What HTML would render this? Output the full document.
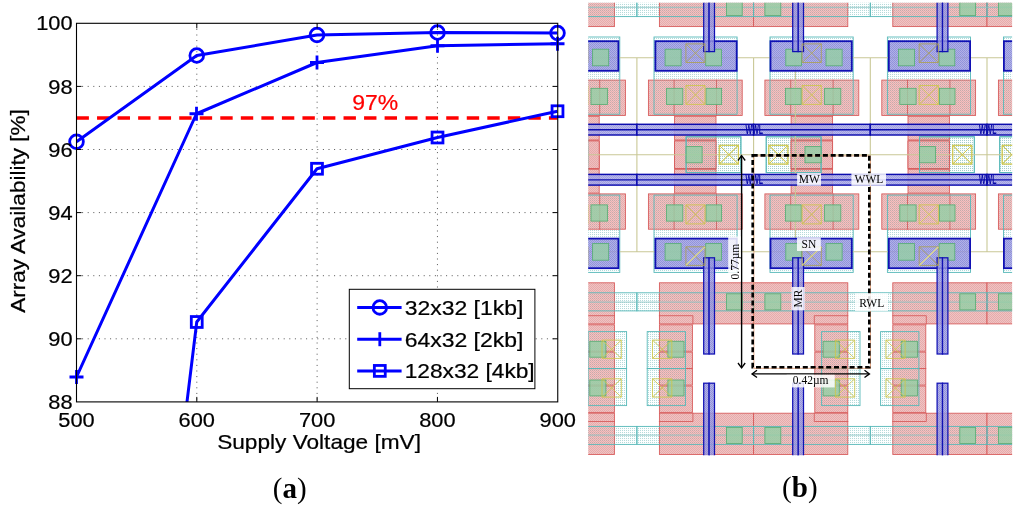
<!DOCTYPE html>
<html lang="en"><head><meta charset="utf-8"><title>Array availability and layout</title>
<style>
html,body{margin:0;padding:0;background:#fff}
body{width:1024px;height:508px;overflow:hidden}
svg{display:block}
text{font-family:"Liberation Sans",Arial,Helvetica,sans-serif;fill:#000}
.tl,.al{stroke:#000;stroke-width:.22px}
.tl{font-size:20.3px}
.al{font-size:20.6px}
.cap{font-family:"Liberation Serif","Times New Roman",serif;font-size:29px}
.lb{font-family:"Liberation Serif","Times New Roman",serif;font-size:11.5px}
.wwl{font-size:12px;font-weight:bold;fill:#0a0aa8}
.grid{stroke:#555;stroke-width:1;stroke-dasharray:1 4.6}
.ser{fill:none;stroke:#0000ff;stroke-width:3;stroke-linejoin:round}
.mk{fill:none;stroke:#0000ff;stroke-width:2.8}
.cyf{fill:url(#hcy);stroke:none}
.cys{fill:url(#hcy2);stroke:#58b9b9;stroke-width:.9}
.cyl{fill:none;stroke:#86c2c2;stroke-width:1;stroke-opacity:.85}
.rd{fill:url(#hrd);stroke:#d65858;stroke-width:.85}
.rdl{fill:none;stroke:#d65858;stroke-width:.85}
.bl{fill:url(#hbl);stroke:#1010b4;stroke-width:1.8}
.bb{fill:url(#hbl);stroke:#1010b4;stroke-width:1.25}
.wl{fill:url(#hwl);stroke:#0c0cae;stroke-width:1.45}
.wlc{stroke:#0c0cae;stroke-width:1.35}
.gr{fill:#96cea6;fill-opacity:.84;stroke:#58ae75;stroke-width:.85}
.ye{fill:none;stroke:#cfc64a;stroke-width:.85}
.yd{fill:none;stroke:#aaa05c;stroke-width:.9}
.yb{fill:none;stroke:#e6e07a;stroke-width:1.1}
.ol{fill:none;stroke:#c9c896;stroke-width:1.1}
</style></head>
<body>
<svg width="1024" height="508" viewBox="0 0 1024 508">
<defs>
<clipPath id="plotclip"><rect x="76.5" y="23.3" width="481.25" height="378.59999999999997"/></clipPath>
<clipPath id="layclip"><rect x="588.2" y="2.8" width="423.9" height="452.5"/></clipPath>
<pattern id="hrd" width="2" height="2" patternUnits="userSpaceOnUse"><rect width="2" height="2" fill="#eebfbf" fill-opacity=".92"/><rect width="1" height="1" fill="#e6a8a8" fill-opacity=".92"/><rect x="1" y="1" width="1" height="1" fill="#e6a8a8" fill-opacity=".92"/></pattern>
<pattern id="hbl" width="2" height="2" patternUnits="userSpaceOnUse"><rect width="2" height="2" fill="#9a9ae0" fill-opacity=".76"/><rect width="1" height="1" fill="#8a8ad8" fill-opacity=".76"/><rect x="1" y="1" width="1" height="1" fill="#8a8ad8" fill-opacity=".76"/></pattern>
<pattern id="hcy" width="2" height="2" patternUnits="userSpaceOnUse"><rect width="2" height="2" fill="#fcffff"/><rect width="1" height="1" fill="#cdeaea"/></pattern>
<pattern id="hcy2" width="2" height="2" patternUnits="userSpaceOnUse"><rect width="1" height="1" fill="#5a9a9a" fill-opacity=".2"/></pattern>
<pattern id="hwl" width="2" height="2" patternUnits="userSpaceOnUse"><rect width="2" height="2" fill="#a6a6e6" fill-opacity=".8"/><rect width="1" height="1" fill="#9a9ae0" fill-opacity=".8"/><rect x="1" y="1" width="1" height="1" fill="#9a9ae0" fill-opacity=".8"/></pattern>
</defs>
<rect width="1024" height="508" fill="#fff"/>
<g id="chart">
<line x1="196.81" y1="23.3" x2="196.81" y2="401.9" class="grid"/>
<line x1="317.12" y1="23.3" x2="317.12" y2="401.9" class="grid"/>
<line x1="437.44" y1="23.3" x2="437.44" y2="401.9" class="grid"/>
<line x1="76.5" y1="338.80" x2="557.75" y2="338.80" class="grid"/>
<line x1="76.5" y1="275.70" x2="557.75" y2="275.70" class="grid"/>
<line x1="76.5" y1="212.60" x2="557.75" y2="212.60" class="grid"/>
<line x1="76.5" y1="149.50" x2="557.75" y2="149.50" class="grid"/>
<line x1="76.5" y1="86.40" x2="557.75" y2="86.40" class="grid"/>
<g clip-path="url(#plotclip)">
<line x1="76.5" y1="118" x2="557.75" y2="118" stroke="#ff0000" stroke-width="3.5" stroke-dasharray="12.4 8.14"/>
<polyline points="76.50,141.75 196.75,55.50 317.00,35.00 437.50,32.50 557.50,33.00" class="ser"/>
<polyline points="76.50,377.00 196.50,113.75 317.00,62.50 437.50,45.75 557.50,43.75" class="ser"/>
<polyline points="177.20,482.00 196.75,322.00 317.00,168.75 437.50,137.50 557.50,111.25" class="ser"/>
</g>
<circle cx="76.5" cy="141.75" r="6.85" class="mk"/>
<circle cx="196.75" cy="55.5" r="6.85" class="mk"/>
<circle cx="317" cy="35" r="6.85" class="mk"/>
<circle cx="437.5" cy="32.5" r="6.85" class="mk"/>
<circle cx="557.5" cy="33" r="6.85" class="mk"/>
<path d="M69.5 377H83.5M76.5 370V384" class="mk"/>
<path d="M189.5 113.75H203.5M196.5 106.75V120.75" class="mk"/>
<path d="M310 62.5H324M317 55.5V69.5" class="mk"/>
<path d="M430.5 45.75H444.5M437.5 38.75V52.75" class="mk"/>
<path d="M550.5 43.75H564.5M557.5 36.75V50.75" class="mk"/>
<rect x="191.3" y="316.55" width="10.9" height="10.9" class="mk"/>
<rect x="311.55" y="163.3" width="10.9" height="10.9" class="mk"/>
<rect x="432.05" y="132.05" width="10.9" height="10.9" class="mk"/>
<rect x="552.05" y="105.8" width="10.9" height="10.9" class="mk"/>
<rect x="76.5" y="23.3" width="481.25" height="378.59999999999997" fill="none" stroke="#000" stroke-width="1.1"/>
<path d="M196.81 401.9v-5M196.81 23.3v5" stroke="#000" stroke-width="1"/>
<path d="M317.12 401.9v-5M317.12 23.3v5" stroke="#000" stroke-width="1"/>
<path d="M437.44 401.9v-5M437.44 23.3v5" stroke="#000" stroke-width="1"/>
<path d="M76.5 338.80h5M557.75 338.80h-5" stroke="#000" stroke-width="1"/>
<path d="M76.5 275.70h5M557.75 275.70h-5" stroke="#000" stroke-width="1"/>
<path d="M76.5 212.60h5M557.75 212.60h-5" stroke="#000" stroke-width="1"/>
<path d="M76.5 149.50h5M557.75 149.50h-5" stroke="#000" stroke-width="1"/>
<path d="M76.5 86.40h5M557.75 86.40h-5" stroke="#000" stroke-width="1"/>
<text x="48.33" y="409.00" class="tl" textLength="24.27" lengthAdjust="spacingAndGlyphs">88</text>
<text x="48.33" y="345.90" class="tl" textLength="24.27" lengthAdjust="spacingAndGlyphs">90</text>
<text x="48.33" y="282.80" class="tl" textLength="24.27" lengthAdjust="spacingAndGlyphs">92</text>
<text x="48.33" y="219.70" class="tl" textLength="24.27" lengthAdjust="spacingAndGlyphs">94</text>
<text x="48.33" y="156.60" class="tl" textLength="24.27" lengthAdjust="spacingAndGlyphs">96</text>
<text x="48.33" y="93.50" class="tl" textLength="24.27" lengthAdjust="spacingAndGlyphs">98</text>
<text x="36.20" y="30.40" class="tl" textLength="36.40" lengthAdjust="spacingAndGlyphs">100</text>
<text x="58.30" y="427" class="tl" textLength="36.40" lengthAdjust="spacingAndGlyphs">500</text>
<text x="178.61" y="427" class="tl" textLength="36.40" lengthAdjust="spacingAndGlyphs">600</text>
<text x="298.93" y="427" class="tl" textLength="36.40" lengthAdjust="spacingAndGlyphs">700</text>
<text x="419.24" y="427" class="tl" textLength="36.40" lengthAdjust="spacingAndGlyphs">800</text>
<text x="539.55" y="427" class="tl" textLength="36.40" lengthAdjust="spacingAndGlyphs">900</text>
<text x="217.2" y="448.8" class="al" textLength="203.8" lengthAdjust="spacingAndGlyphs">Supply Voltage [mV]</text>
<text transform="translate(25.2 312.8) rotate(-90)" class="al" textLength="203.5" lengthAdjust="spacingAndGlyphs">Array Availability [%]</text>
<text x="352.3" y="110.2" class="al" style="fill:#f00;stroke:#f00;font-size:21.4px" textLength="46" lengthAdjust="spacingAndGlyphs">97%</text>
<rect x="349.3" y="289.3" width="185.6" height="99.4" fill="#fff" stroke="#000" stroke-width="1"/>
<line x1="357.2" y1="307.45" x2="401.6" y2="307.45" class="ser"/>
<circle cx="379.8" cy="307.45" r="6.8" class="mk"/>
<text x="404.7" y="314.75" class="al" textLength="118.6" lengthAdjust="spacingAndGlyphs">32x32 [1kb]</text>
<line x1="357.2" y1="339.2" x2="401.6" y2="339.2" class="ser"/>
<path d="M379.8 332.2V346.2" class="mk"/>
<text x="404.7" y="346.5" class="al" textLength="118.6" lengthAdjust="spacingAndGlyphs">64x32 [2kb]</text>
<line x1="357.2" y1="370.9" x2="401.6" y2="370.9" class="ser"/>
<rect x="374.35" y="365.45" width="10.9" height="10.9" class="mk"/>
<text x="404.7" y="378.2" class="al" textLength="130" lengthAdjust="spacingAndGlyphs">128x32 [4kb]</text>
<text x="272.8" y="497.5" class="cap">(<tspan font-weight="bold">a</tspan>)</text>
<text x="782.1" y="497.3" class="cap">(<tspan font-weight="bold">b</tspan>)</text>
</g>
<g id="layout">
<g clip-path="url(#layclip)">
<rect x="532.9" y="136.8" width="54.8" height="35.7" class="cyf"/>
<rect x="536.6" y="37.0" width="83.2" height="77.2" class="cyf"/>
<rect x="520.2" y="-1.5" width="116.7" height="18.1" class="cyf"/>
<rect x="532.9" y="136.8" width="54.8" height="35.8" class="cyf"/>
<rect x="536.6" y="195.1" width="83.2" height="77.3" class="cyf"/>
<rect x="520.2" y="292.8" width="116.7" height="18.1" class="cyf"/>
<rect x="588.2" y="331.6" width="38.4" height="37.0" class="cyf"/>
<rect x="520.2" y="426.4" width="116.7" height="18.0" class="cyf"/>
<rect x="588.2" y="368.6" width="38.4" height="37.0" class="cyf"/>
<rect x="686.1" y="136.8" width="54.8" height="35.7" class="cyf"/>
<rect x="654.0" y="37.0" width="83.1" height="77.2" class="cyf"/>
<rect x="636.9" y="-1.5" width="116.7" height="18.1" class="cyf"/>
<rect x="686.1" y="136.8" width="54.8" height="35.8" class="cyf"/>
<rect x="654.0" y="195.1" width="83.1" height="77.3" class="cyf"/>
<rect x="636.9" y="292.8" width="116.7" height="18.1" class="cyf"/>
<rect x="647.2" y="331.6" width="38.3" height="37.0" class="cyf"/>
<rect x="636.9" y="426.4" width="116.7" height="18.0" class="cyf"/>
<rect x="647.2" y="368.6" width="38.3" height="37.0" class="cyf"/>
<rect x="766.2" y="136.8" width="54.9" height="35.7" class="cyf"/>
<rect x="770.0" y="37.0" width="83.2" height="77.2" class="cyf"/>
<rect x="753.6" y="-1.5" width="116.7" height="18.1" class="cyf"/>
<rect x="766.2" y="136.8" width="54.9" height="35.8" class="cyf"/>
<rect x="770.0" y="195.1" width="83.2" height="77.3" class="cyf"/>
<rect x="753.6" y="292.8" width="116.7" height="18.1" class="cyf"/>
<rect x="821.6" y="331.6" width="38.4" height="37.0" class="cyf"/>
<rect x="753.6" y="426.4" width="116.7" height="18.0" class="cyf"/>
<rect x="821.6" y="368.6" width="38.4" height="37.0" class="cyf"/>
<rect x="919.5" y="136.8" width="54.8" height="35.7" class="cyf"/>
<rect x="887.4" y="37.0" width="83.1" height="77.2" class="cyf"/>
<rect x="870.3" y="-1.5" width="116.7" height="18.1" class="cyf"/>
<rect x="919.5" y="136.8" width="54.8" height="35.8" class="cyf"/>
<rect x="887.4" y="195.1" width="83.1" height="77.3" class="cyf"/>
<rect x="870.3" y="292.8" width="116.7" height="18.1" class="cyf"/>
<rect x="880.6" y="331.6" width="38.3" height="37.0" class="cyf"/>
<rect x="870.3" y="426.4" width="116.7" height="18.0" class="cyf"/>
<rect x="880.6" y="368.6" width="38.3" height="37.0" class="cyf"/>
<rect x="999.7" y="136.8" width="54.8" height="35.7" class="cyf"/>
<rect x="1003.5" y="37.0" width="83.1" height="77.2" class="cyf"/>
<rect x="987.0" y="-1.5" width="116.7" height="18.1" class="cyf"/>
<rect x="999.7" y="136.8" width="54.8" height="35.8" class="cyf"/>
<rect x="1003.5" y="195.1" width="83.1" height="77.3" class="cyf"/>
<rect x="987.0" y="292.8" width="116.7" height="18.1" class="cyf"/>
<rect x="987.0" y="426.4" width="116.7" height="18.0" class="cyf"/>
<rect x="557.8" y="140.9" width="41.4" height="27.5" class="rd"/>
<rect x="557.8" y="116.3" width="41.4" height="23.7" class="rd"/>
<rect x="531.5" y="80.1" width="93.9" height="35.3" class="rd"/>
<rect x="520.2" y="-14.6" width="94.2" height="41.2" class="rd"/>
<rect x="557.8" y="140.9" width="41.4" height="27.6" class="rd"/>
<rect x="557.8" y="169.3" width="41.4" height="23.8" class="rd"/>
<rect x="531.5" y="193.9" width="93.9" height="35.3" class="rd"/>
<rect x="520.2" y="282.8" width="94.2" height="41.1" class="rd"/>
<rect x="581.4" y="324.8" width="33.0" height="26.4" class="rd"/>
<rect x="581.4" y="352.1" width="33.0" height="16.5" class="rd"/>
<rect x="520.2" y="413.2" width="94.2" height="41.3" class="rd"/>
<rect x="581.4" y="386.0" width="33.0" height="26.4" class="rd"/>
<rect x="581.4" y="368.6" width="33.0" height="16.5" class="rd"/>
<rect x="674.6" y="140.9" width="41.4" height="27.5" class="rd"/>
<rect x="674.6" y="116.3" width="41.4" height="23.7" class="rd"/>
<rect x="648.4" y="80.1" width="93.8" height="35.3" class="rd"/>
<rect x="659.4" y="-14.6" width="94.2" height="41.2" class="rd"/>
<rect x="674.6" y="140.9" width="41.4" height="27.6" class="rd"/>
<rect x="674.6" y="169.3" width="41.4" height="23.8" class="rd"/>
<rect x="648.4" y="193.9" width="93.8" height="35.3" class="rd"/>
<rect x="659.4" y="282.8" width="94.2" height="41.1" class="rd"/>
<rect x="659.4" y="324.8" width="33.0" height="26.4" class="rd"/>
<rect x="659.4" y="352.1" width="33.0" height="16.5" class="rd"/>
<rect x="659.4" y="413.2" width="94.2" height="41.3" class="rd"/>
<rect x="659.4" y="386.0" width="33.0" height="26.4" class="rd"/>
<rect x="659.4" y="368.6" width="33.0" height="16.5" class="rd"/>
<rect x="791.1" y="140.9" width="41.5" height="27.5" class="rd"/>
<rect x="791.1" y="116.3" width="41.5" height="23.7" class="rd"/>
<rect x="764.9" y="80.1" width="93.9" height="35.3" class="rd"/>
<rect x="753.6" y="-14.6" width="94.2" height="41.2" class="rd"/>
<rect x="791.1" y="140.9" width="41.5" height="27.6" class="rd"/>
<rect x="791.1" y="169.3" width="41.5" height="23.8" class="rd"/>
<rect x="764.9" y="193.9" width="93.9" height="35.3" class="rd"/>
<rect x="753.6" y="282.8" width="94.2" height="41.1" class="rd"/>
<rect x="814.8" y="324.8" width="33.0" height="26.4" class="rd"/>
<rect x="814.8" y="352.1" width="33.0" height="16.5" class="rd"/>
<rect x="753.6" y="413.2" width="94.2" height="41.3" class="rd"/>
<rect x="814.8" y="386.0" width="33.0" height="26.4" class="rd"/>
<rect x="814.8" y="368.6" width="33.0" height="16.5" class="rd"/>
<rect x="908.0" y="140.9" width="41.4" height="27.5" class="rd"/>
<rect x="908.0" y="116.3" width="41.4" height="23.7" class="rd"/>
<rect x="881.8" y="80.1" width="93.8" height="35.3" class="rd"/>
<rect x="892.8" y="-14.6" width="94.2" height="41.2" class="rd"/>
<rect x="908.0" y="140.9" width="41.4" height="27.6" class="rd"/>
<rect x="908.0" y="169.3" width="41.4" height="23.8" class="rd"/>
<rect x="881.8" y="193.9" width="93.8" height="35.3" class="rd"/>
<rect x="892.8" y="282.8" width="94.2" height="41.1" class="rd"/>
<rect x="892.8" y="324.8" width="33.0" height="26.4" class="rd"/>
<rect x="892.8" y="352.1" width="33.0" height="16.5" class="rd"/>
<rect x="892.8" y="413.2" width="94.2" height="41.3" class="rd"/>
<rect x="892.8" y="386.0" width="33.0" height="26.4" class="rd"/>
<rect x="892.8" y="368.6" width="33.0" height="16.5" class="rd"/>
<rect x="998.4" y="80.1" width="93.8" height="35.3" class="rd"/>
<rect x="987.0" y="-14.6" width="94.2" height="41.2" class="rd"/>
<rect x="998.4" y="193.9" width="93.8" height="35.3" class="rd"/>
<rect x="987.0" y="282.8" width="94.2" height="41.1" class="rd"/>
<rect x="987.0" y="413.2" width="94.2" height="41.3" class="rd"/>
<path d="M599.7 79.7L599.7 115.9M599.7 193.5L599.7 229.7M580.9 315.7L614.9 315.7M580.9 421.5L614.9 421.5M674.1 79.7L674.1 115.9M716.5 79.7L716.5 115.9M674.1 193.5L674.1 229.7M716.5 193.5L716.5 229.7M658.9 315.7L692.9 315.7M692.9 315.7L692.9 324.4M658.9 421.5L692.9 421.5M692.9 412.8L692.9 421.5M833.1 79.7L833.1 115.9M790.7 79.7L790.7 115.9M833.1 193.5L833.1 229.7M790.7 193.5L790.7 229.7M814.3 315.7L848.3 315.7M814.3 315.7L814.3 324.4M814.3 421.5L848.3 421.5M814.3 412.8L814.3 421.5M907.5 79.7L907.5 115.9M949.9 79.7L949.9 115.9M907.5 193.5L907.5 229.7M949.9 193.5L949.9 229.7M892.3 315.7L926.3 315.7M926.3 315.7L926.3 324.4M892.3 421.5L926.3 421.5M926.3 412.8L926.3 421.5" class="rdl"/>
<rect x="532.9" y="136.8" width="54.8" height="35.7" class="cys"/>
<rect x="536.6" y="37.0" width="83.2" height="77.2" class="cys"/>
<rect x="520.2" y="-1.5" width="116.7" height="18.1" class="cys"/>
<rect x="532.9" y="136.8" width="54.8" height="35.8" class="cys"/>
<rect x="536.6" y="195.1" width="83.2" height="77.3" class="cys"/>
<rect x="520.2" y="292.8" width="116.7" height="18.1" class="cys"/>
<rect x="588.2" y="331.6" width="38.4" height="37.0" class="cys"/>
<rect x="520.2" y="426.4" width="116.7" height="18.0" class="cys"/>
<rect x="588.2" y="368.6" width="38.4" height="37.0" class="cys"/>
<rect x="686.1" y="136.8" width="54.8" height="35.7" class="cys"/>
<rect x="654.0" y="37.0" width="83.1" height="77.2" class="cys"/>
<rect x="636.9" y="-1.5" width="116.7" height="18.1" class="cys"/>
<rect x="686.1" y="136.8" width="54.8" height="35.8" class="cys"/>
<rect x="654.0" y="195.1" width="83.1" height="77.3" class="cys"/>
<rect x="636.9" y="292.8" width="116.7" height="18.1" class="cys"/>
<rect x="647.2" y="331.6" width="38.3" height="37.0" class="cys"/>
<rect x="636.9" y="426.4" width="116.7" height="18.0" class="cys"/>
<rect x="647.2" y="368.6" width="38.3" height="37.0" class="cys"/>
<rect x="766.2" y="136.8" width="54.9" height="35.7" class="cys"/>
<rect x="770.0" y="37.0" width="83.2" height="77.2" class="cys"/>
<rect x="753.6" y="-1.5" width="116.7" height="18.1" class="cys"/>
<rect x="766.2" y="136.8" width="54.9" height="35.8" class="cys"/>
<rect x="770.0" y="195.1" width="83.2" height="77.3" class="cys"/>
<rect x="753.6" y="292.8" width="116.7" height="18.1" class="cys"/>
<rect x="821.6" y="331.6" width="38.4" height="37.0" class="cys"/>
<rect x="753.6" y="426.4" width="116.7" height="18.0" class="cys"/>
<rect x="821.6" y="368.6" width="38.4" height="37.0" class="cys"/>
<rect x="919.5" y="136.8" width="54.8" height="35.7" class="cys"/>
<rect x="887.4" y="37.0" width="83.1" height="77.2" class="cys"/>
<rect x="870.3" y="-1.5" width="116.7" height="18.1" class="cys"/>
<rect x="919.5" y="136.8" width="54.8" height="35.8" class="cys"/>
<rect x="887.4" y="195.1" width="83.1" height="77.3" class="cys"/>
<rect x="870.3" y="292.8" width="116.7" height="18.1" class="cys"/>
<rect x="880.6" y="331.6" width="38.3" height="37.0" class="cys"/>
<rect x="870.3" y="426.4" width="116.7" height="18.0" class="cys"/>
<rect x="880.6" y="368.6" width="38.3" height="37.0" class="cys"/>
<rect x="999.7" y="136.8" width="54.8" height="35.7" class="cys"/>
<rect x="1003.5" y="37.0" width="83.1" height="77.2" class="cys"/>
<rect x="987.0" y="-1.5" width="116.7" height="18.1" class="cys"/>
<rect x="999.7" y="136.8" width="54.8" height="35.8" class="cys"/>
<rect x="1003.5" y="195.1" width="83.1" height="77.3" class="cys"/>
<rect x="987.0" y="292.8" width="116.7" height="18.1" class="cys"/>
<rect x="987.0" y="426.4" width="116.7" height="18.0" class="cys"/>
<path d="M520.2 7.3L636.9 7.3M520.2 302.1L636.9 302.1M520.2 435.1L636.9 435.1M636.9 7.3L753.6 7.3M636.9 302.1L753.6 302.1M636.9 435.1L753.6 435.1M753.6 7.3L870.3 7.3M753.6 302.1L870.3 302.1M753.6 435.1L870.3 435.1M870.3 7.3L987.0 7.3M870.3 302.1L987.0 302.1M870.3 435.1L987.0 435.1M987.0 7.3L1103.7 7.3M987.0 302.1L1103.7 302.1M987.0 435.1L1103.7 435.1" class="cyl"/>
<path d="M520.2 154.7L636.9 154.7M520.2 57.7L636.9 57.7M636.9 57.7L636.9 154.7M520.2 251.7L636.9 251.7M636.9 154.7L636.9 251.7M636.9 154.7L753.6 154.7M636.9 57.7L753.6 57.7M753.6 57.7L753.6 154.7M636.9 251.7L753.6 251.7M753.6 154.7L753.6 251.7M753.6 154.7L870.3 154.7M753.6 57.7L870.3 57.7M870.3 57.7L870.3 154.7M753.6 251.7L870.3 251.7M870.3 154.7L870.3 251.7M870.3 154.7L987.0 154.7M870.3 57.7L987.0 57.7M987.0 57.7L987.0 154.7M870.3 251.7L987.0 251.7M987.0 154.7L987.0 251.7M987.0 154.7L1103.7 154.7M987.0 57.7L1103.7 57.7M987.0 251.7L1103.7 251.7" class="ol"/>
<path d="M795.4 57.7V251.7" class="ol"/>
<rect x="537.1" y="41.2" width="81.3" height="29.6" class="bl"/>
<rect x="537.1" y="238.6" width="81.3" height="29.6" class="bl"/>
<rect x="655.4" y="41.2" width="81.3" height="29.6" class="bl"/>
<rect x="655.4" y="238.6" width="81.3" height="29.6" class="bl"/>
<rect x="770.5" y="41.2" width="81.3" height="29.6" class="bl"/>
<rect x="770.5" y="238.6" width="81.3" height="29.6" class="bl"/>
<rect x="888.8" y="41.2" width="81.3" height="29.6" class="bl"/>
<rect x="888.8" y="238.6" width="81.3" height="29.6" class="bl"/>
<rect x="1003.9" y="41.2" width="81.3" height="29.6" class="bl"/>
<rect x="1003.9" y="238.6" width="81.3" height="29.6" class="bl"/>
<rect x="520.2" y="124.3" width="116.7" height="10.7" class="wl"/>
<rect x="520.2" y="174.4" width="116.7" height="10.7" class="wl"/>
<rect x="636.9" y="124.3" width="116.7" height="10.7" class="wl"/>
<rect x="636.9" y="174.4" width="116.7" height="10.7" class="wl"/>
<rect x="753.6" y="124.3" width="116.7" height="10.7" class="wl"/>
<rect x="753.6" y="174.4" width="116.7" height="10.7" class="wl"/>
<rect x="870.3" y="124.3" width="116.7" height="10.7" class="wl"/>
<rect x="870.3" y="174.4" width="116.7" height="10.7" class="wl"/>
<rect x="987.0" y="124.3" width="116.7" height="10.7" class="wl"/>
<rect x="987.0" y="174.4" width="116.7" height="10.7" class="wl"/>
<line x1="520.2" y1="129.7" x2="636.9" y2="129.7" class="wlc"/>
<line x1="520.2" y1="179.8" x2="636.9" y2="179.8" class="wlc"/>
<line x1="636.9" y1="129.7" x2="753.6" y2="129.7" class="wlc"/>
<line x1="636.9" y1="179.8" x2="753.6" y2="179.8" class="wlc"/>
<line x1="753.6" y1="129.7" x2="870.3" y2="129.7" class="wlc"/>
<line x1="753.6" y1="179.8" x2="870.3" y2="179.8" class="wlc"/>
<line x1="870.3" y1="129.7" x2="987.0" y2="129.7" class="wlc"/>
<line x1="870.3" y1="179.8" x2="987.0" y2="179.8" class="wlc"/>
<line x1="987.0" y1="129.7" x2="1103.7" y2="129.7" class="wlc"/>
<line x1="987.0" y1="179.8" x2="1103.7" y2="179.8" class="wlc"/>
<rect x="571.6" y="146.6" width="16.1" height="16.2" class="gr"/>
<rect x="591.0" y="88.3" width="16.4" height="16.1" class="gr"/>
<rect x="592.6" y="49.2" width="16.1" height="16.6" class="gr"/>
<rect x="591.0" y="204.9" width="16.4" height="16.2" class="gr"/>
<rect x="592.6" y="243.6" width="16.1" height="16.6" class="gr"/>
<rect x="589.8" y="341.3" width="16.1" height="15.9" class="gr"/>
<rect x="589.8" y="380.0" width="16.1" height="15.9" class="gr"/>
<rect x="686.1" y="146.6" width="16.0" height="16.2" class="gr"/>
<rect x="666.4" y="88.3" width="16.4" height="16.1" class="gr"/>
<rect x="706.0" y="88.3" width="15.6" height="16.1" class="gr"/>
<rect x="665.1" y="49.2" width="16.0" height="16.6" class="gr"/>
<rect x="705.7" y="49.2" width="15.7" height="16.6" class="gr"/>
<rect x="726.4" y="-0.5" width="15.8" height="16.1" class="gr"/>
<rect x="666.4" y="204.9" width="16.4" height="16.2" class="gr"/>
<rect x="706.0" y="204.9" width="15.6" height="16.2" class="gr"/>
<rect x="665.1" y="243.6" width="16.0" height="16.6" class="gr"/>
<rect x="705.7" y="243.6" width="15.7" height="16.6" class="gr"/>
<rect x="726.4" y="293.8" width="15.8" height="16.1" class="gr"/>
<rect x="667.9" y="341.3" width="16.1" height="15.9" class="gr"/>
<rect x="726.4" y="427.4" width="15.8" height="16.1" class="gr"/>
<rect x="667.9" y="380.0" width="16.1" height="15.9" class="gr"/>
<rect x="805.0" y="146.6" width="16.1" height="16.2" class="gr"/>
<rect x="824.4" y="88.3" width="16.4" height="16.1" class="gr"/>
<rect x="785.5" y="88.3" width="15.7" height="16.1" class="gr"/>
<rect x="826.0" y="49.2" width="16.1" height="16.6" class="gr"/>
<rect x="785.8" y="49.2" width="15.7" height="16.6" class="gr"/>
<rect x="764.9" y="-0.5" width="15.9" height="16.1" class="gr"/>
<rect x="824.4" y="204.9" width="16.4" height="16.2" class="gr"/>
<rect x="785.5" y="204.9" width="15.7" height="16.2" class="gr"/>
<rect x="826.0" y="243.6" width="16.1" height="16.6" class="gr"/>
<rect x="785.8" y="243.6" width="15.7" height="16.6" class="gr"/>
<rect x="764.9" y="293.8" width="15.9" height="16.1" class="gr"/>
<rect x="823.1" y="341.3" width="16.2" height="15.9" class="gr"/>
<rect x="764.9" y="427.4" width="15.9" height="16.1" class="gr"/>
<rect x="823.1" y="380.0" width="16.2" height="15.9" class="gr"/>
<rect x="919.5" y="146.6" width="16.0" height="16.2" class="gr"/>
<rect x="899.8" y="88.3" width="16.3" height="16.1" class="gr"/>
<rect x="939.4" y="88.3" width="15.6" height="16.1" class="gr"/>
<rect x="898.5" y="49.2" width="16.0" height="16.6" class="gr"/>
<rect x="939.1" y="49.2" width="15.7" height="16.6" class="gr"/>
<rect x="959.8" y="-0.5" width="15.8" height="16.1" class="gr"/>
<rect x="899.8" y="204.9" width="16.3" height="16.2" class="gr"/>
<rect x="939.4" y="204.9" width="15.6" height="16.2" class="gr"/>
<rect x="898.5" y="243.6" width="16.0" height="16.6" class="gr"/>
<rect x="939.1" y="243.6" width="15.7" height="16.6" class="gr"/>
<rect x="959.8" y="293.8" width="15.8" height="16.1" class="gr"/>
<rect x="901.2" y="341.3" width="16.2" height="15.9" class="gr"/>
<rect x="959.8" y="427.4" width="15.8" height="16.1" class="gr"/>
<rect x="901.2" y="380.0" width="16.2" height="15.9" class="gr"/>
<rect x="998.4" y="-0.5" width="15.8" height="16.1" class="gr"/>
<rect x="998.4" y="293.8" width="15.8" height="16.1" class="gr"/>
<rect x="998.4" y="427.4" width="15.8" height="16.1" class="gr"/>
<rect x="703.7" y="-44.6" width="5.4" height="96.2" class="bb"/>
<rect x="709.1" y="-44.6" width="5.4" height="96.2" class="bb"/>
<rect x="703.7" y="257.8" width="5.4" height="96.2" class="bb"/>
<rect x="709.1" y="257.8" width="5.4" height="96.2" class="bb"/>
<rect x="703.7" y="383.2" width="5.4" height="96.2" class="bb"/>
<rect x="709.1" y="383.2" width="5.4" height="96.2" class="bb"/>
<rect x="798.1" y="-44.6" width="5.4" height="96.2" class="bb"/>
<rect x="792.7" y="-44.6" width="5.4" height="96.2" class="bb"/>
<rect x="798.1" y="257.8" width="5.4" height="96.2" class="bb"/>
<rect x="792.7" y="257.8" width="5.4" height="96.2" class="bb"/>
<rect x="798.1" y="383.2" width="5.4" height="96.2" class="bb"/>
<rect x="792.7" y="383.2" width="5.4" height="96.2" class="bb"/>
<rect x="937.1" y="-44.6" width="5.4" height="96.2" class="bb"/>
<rect x="942.5" y="-44.6" width="5.4" height="96.2" class="bb"/>
<rect x="937.1" y="257.8" width="5.4" height="96.2" class="bb"/>
<rect x="942.5" y="257.8" width="5.4" height="96.2" class="bb"/>
<rect x="937.1" y="383.2" width="5.4" height="96.2" class="bb"/>
<rect x="942.5" y="383.2" width="5.4" height="96.2" class="bb"/>
<path d="M568.8 85.5H587.9V104.4H568.8ZM568.8 85.5L587.9 104.4M587.9 85.5L568.8 104.4" class="ye"/>
<path d="M568.8 43.9H587.9V62.5H568.8ZM568.8 43.9L587.9 62.5M587.9 43.9L568.8 62.5" class="yd"/>
<path d="M568.8 204.9H587.9V223.9H568.8ZM568.8 204.9L587.9 223.9M587.9 204.9L568.8 223.9" class="ye"/>
<path d="M568.8 246.8H587.9V265.4H568.8ZM568.8 246.8L587.9 265.4" class="yd"/>
<path d="M587.9 246.8L568.8 265.4" class="yb"/>
<path d="M602.0 340.1H621.3V358.4H602.0ZM602.0 340.1L621.3 358.4M621.3 340.1L602.0 358.4" class="ye"/>
<path d="M602.0 378.8H621.3V397.1H602.0ZM602.0 378.8L621.3 397.1M621.3 378.8L602.0 397.1" class="ye"/>
<path d="M719.3 145.3H738.4V164.0H719.3ZM719.3 145.3L738.4 164.0M738.4 145.3L719.3 164.0" class="ye"/>
<path d="M685.9 85.5H705.0V104.4H685.9ZM685.9 85.5L705.0 104.4M705.0 85.5L685.9 104.4" class="ye"/>
<path d="M685.9 43.9H705.0V62.5H685.9ZM685.9 43.9L705.0 62.5M705.0 43.9L685.9 62.5" class="yd"/>
<path d="M719.3 145.3H738.4V164.1H719.3ZM719.3 145.3L738.4 164.1M738.4 145.3L719.3 164.1" class="ye"/>
<path d="M685.9 204.9H705.0V223.9H685.9ZM685.9 204.9L705.0 223.9M705.0 204.9L685.9 223.9" class="ye"/>
<path d="M685.9 246.8H705.0V265.4H685.9ZM685.9 246.8L705.0 265.4" class="yd"/>
<path d="M705.0 246.8L685.9 265.4" class="yb"/>
<path d="M652.5 340.1H671.8V358.4H652.5ZM652.5 340.1L671.8 358.4M671.8 340.1L652.5 358.4" class="ye"/>
<path d="M652.5 378.8H671.8V397.1H652.5ZM652.5 378.8L671.8 397.1M671.8 378.8L652.5 397.1" class="ye"/>
<path d="M768.8 145.3H787.9V164.0H768.8ZM768.8 145.3L787.9 164.0M787.9 145.3L768.8 164.0" class="ye"/>
<path d="M802.1 85.5H821.3V104.4H802.1ZM802.1 85.5L821.3 104.4M821.3 85.5L802.1 104.4" class="ye"/>
<path d="M802.1 43.9H821.3V62.5H802.1ZM802.1 43.9L821.3 62.5M821.3 43.9L802.1 62.5" class="yd"/>
<path d="M768.8 145.3H787.9V164.1H768.8ZM768.8 145.3L787.9 164.1M787.9 145.3L768.8 164.1" class="ye"/>
<path d="M802.1 204.9H821.3V223.9H802.1ZM802.1 204.9L821.3 223.9M821.3 204.9L802.1 223.9" class="ye"/>
<path d="M802.1 246.8H821.3V265.4H802.1ZM802.1 246.8L821.3 265.4" class="yd"/>
<path d="M821.3 246.8L802.1 265.4" class="yb"/>
<path d="M835.4 340.1H854.7V358.4H835.4ZM835.4 340.1L854.7 358.4M854.7 340.1L835.4 358.4" class="ye"/>
<path d="M835.4 378.8H854.7V397.1H835.4ZM835.4 378.8L854.7 397.1M854.7 378.8L835.4 397.1" class="ye"/>
<path d="M952.7 145.3H971.8V164.0H952.7ZM952.7 145.3L971.8 164.0M971.8 145.3L952.7 164.0" class="ye"/>
<path d="M919.2 85.5H938.4V104.4H919.2ZM919.2 85.5L938.4 104.4M938.4 85.5L919.2 104.4" class="ye"/>
<path d="M919.2 43.9H938.4V62.5H919.2ZM919.2 43.9L938.4 62.5M938.4 43.9L919.2 62.5" class="yd"/>
<path d="M952.7 145.3H971.8V164.1H952.7ZM952.7 145.3L971.8 164.1M971.8 145.3L952.7 164.1" class="ye"/>
<path d="M919.2 204.9H938.4V223.9H919.2ZM919.2 204.9L938.4 223.9M938.4 204.9L919.2 223.9" class="ye"/>
<path d="M919.2 246.8H938.4V265.4H919.2ZM919.2 246.8L938.4 265.4" class="yd"/>
<path d="M938.4 246.8L919.2 265.4" class="yb"/>
<path d="M885.9 340.1H905.1V358.4H885.9ZM885.9 340.1L905.1 358.4M905.1 340.1L885.9 358.4" class="ye"/>
<path d="M885.9 378.8H905.1V397.1H885.9ZM885.9 378.8L905.1 397.1M905.1 378.8L885.9 397.1" class="ye"/>
<path d="M1002.2 145.3H1021.3V164.0H1002.2ZM1002.2 145.3L1021.3 164.0M1021.3 145.3L1002.2 164.0" class="ye"/>
<path d="M1002.2 145.3H1021.3V164.1H1002.2ZM1002.2 145.3L1021.3 164.1M1021.3 145.3L1002.2 164.1" class="ye"/>
<text x="745.6" y="184.4" class="wwl" textLength="17.5" lengthAdjust="spacingAndGlyphs">WWL</text>
<text x="745.6" y="134.4" class="wwl" textLength="17.5" lengthAdjust="spacingAndGlyphs">WWL</text>
<text x="979" y="184.4" class="wwl" textLength="17.5" lengthAdjust="spacingAndGlyphs">WWL</text>
<text x="979" y="134.4" class="wwl" textLength="17.5" lengthAdjust="spacingAndGlyphs">WWL</text>
</g>
<rect x="753.9" y="155.9" width="116.6" height="212.4" fill="none" stroke="#e3a27c" stroke-width="0.9"/>
<rect x="752.7" y="155.4" width="116.6" height="211.9" fill="none" stroke="#000" stroke-width="2.6" stroke-dasharray="5 2.8"/>
<path d="M741.6 156V367.5" stroke="#000" stroke-width="1.4" fill="none"/>
<path d="M738 160.5L741.6 155.6L745.2 160.5M738 363L741.6 368L745.2 363" stroke="#000" stroke-width="1.3" fill="none"/>
<path d="M752.5 373.9H869" stroke="#000" stroke-width="1.4" fill="none"/>
<path d="M757 370.3L752 373.9L757 377.5M864.5 370.3L869.5 373.9L864.5 377.5" stroke="#000" stroke-width="1.3" fill="none"/>
<rect x="797.1" y="173.1" width="23.9" height="12.7" fill="#fff" fill-opacity="0.84"/>
<text x="798.7" y="183.3" class="lb">MW</text>
<rect x="851.4" y="173.1" width="34.6" height="12.7" fill="#fff" fill-opacity="0.84"/>
<text x="854.6" y="183.3" class="lb">WWL</text>
<rect x="797" y="237.6" width="23.8" height="13.4" fill="#fff" fill-opacity="0.84"/>
<text x="801.6" y="248.3" class="lb">SN</text>
<rect x="855" y="293.3" width="33.0" height="17.7" fill="#fff" fill-opacity="0.84"/>
<text x="859.3" y="306.5" class="lb">RWL</text>
<rect x="791.5" y="287" width="13.2" height="23.3" fill="#fff" fill-opacity="0.84"/>
<text transform="translate(802 307.4) rotate(-90)" class="lb">MR</text>
<rect x="728.2" y="236.4" width="12.6" height="44.6" fill="#fff" fill-opacity="0.84"/>
<text transform="translate(738.9 279.4) rotate(-90)" class="lb">0.77µm</text>
<rect x="786.7" y="374.8" width="48.0" height="12.6" fill="#fff" fill-opacity="0.84"/>
<text x="792.8" y="384.2" class="lb">0.42µm</text>
</g>
</svg>
</body></html>
